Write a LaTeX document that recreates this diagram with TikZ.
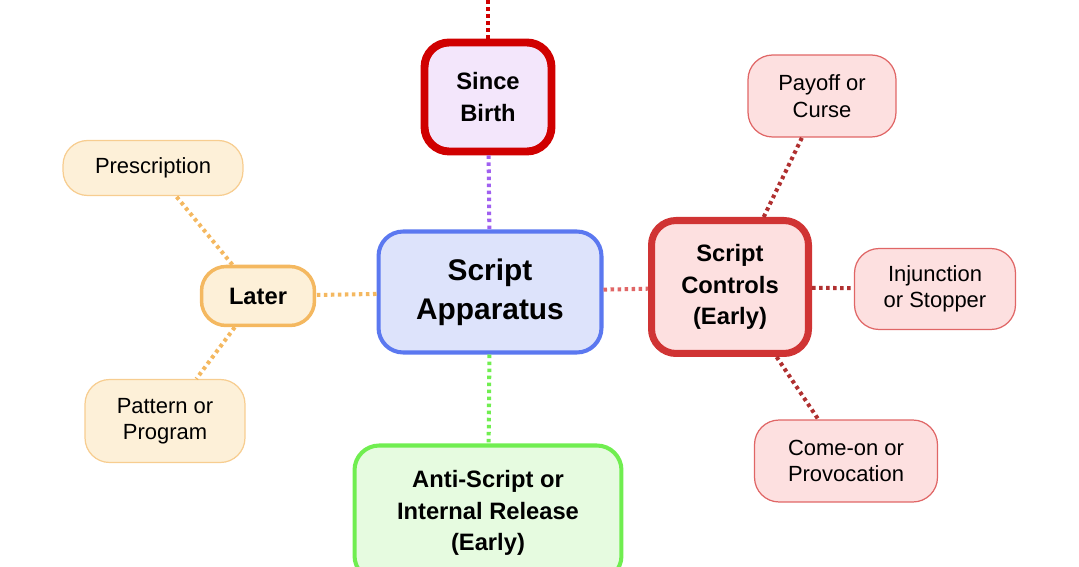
\documentclass[tikz,border=0pt]{standalone}
\usepackage{fontspec}
\setmainfont{Liberation Sans}
\usetikzlibrary{positioning}

\definecolor{bluefill}{HTML}{DDE3FB}
\definecolor{blueline}{HTML}{5B78F0}
\definecolor{redfill}{HTML}{FDE0E0}
\definecolor{redline}{HTML}{D03434}
\definecolor{leafline}{HTML}{E06666}
\definecolor{birthfill}{HTML}{F3E6FB}
\definecolor{birthline}{HTML}{D00000}
\definecolor{orangefill}{HTML}{FDF0D8}
\definecolor{orangeline}{HTML}{F4B860}
\definecolor{greenfill}{HTML}{E6FBE0}
\definecolor{greenline}{HTML}{70EE50}
\definecolor{purpleline}{HTML}{A060F0}
\definecolor{linkred}{HTML}{B03030}

\tikzset{
  box/.style={rounded corners=14pt, align=center, inner sep=2pt},
  leaf/.style={box, line width=0.7pt, font=\fontsize{12.5}{15}\selectfont},
  hub/.style={box, font=\bfseries\fontsize{13.5}{18}\selectfont},
  link/.style={line width=2.3pt, dash pattern=on 2pt off 2pt}
}

\begin{document}
\begin{tikzpicture}[x=0.02cm,y=-0.02cm]
  \useasboundingbox (0,0) rectangle (1079,567);
  % centre
  \node [box, draw=blueline, fill=bluefill, line width=2.3pt,
    minimum width=4.46cm, minimum height=2.42cm,
    font=\bfseries\fontsize{17}{22}\selectfont] (app) at (490,292) {Script\\Apparatus};
  % top
  \node [hub, draw=birthline, fill=birthfill, line width=4.5pt,
    minimum width=2.54cm, minimum height=2.18cm] (birth) at (488,97) {Since\\Birth};
  \coordinate (top) at (488,0);
  % right
  \node [hub, draw=redline, fill=redfill, line width=4pt,
    minimum width=3.14cm, minimum height=2.66cm] (ctrl) at (730,287) {Script\\Controls\\(Early)};
  \node [leaf, draw=leafline, fill=redfill, minimum width=2.96cm, minimum height=1.64cm] (pay) at (822,96) {Payoff or\\Curse};
  \node [leaf, draw=leafline, fill=redfill, minimum width=3.22cm, minimum height=1.62cm] (inj) at (935,289) {Injunction\\or Stopper};
  \node [leaf, draw=leafline, fill=redfill, minimum width=3.66cm, minimum height=1.64cm] (come) at (846,461) {Come-on or\\Provocation};
  % left
  \node [hub, draw=orangeline, fill=orangefill, line width=2pt,
    minimum width=2.26cm, minimum height=1.18cm] (later) at (258,296) {Later};
  \node [leaf, draw=orangeline!70, fill=orangefill, minimum width=3.6cm, minimum height=1.1cm] (pres) at (153,168) {Prescription};
  \node [leaf, draw=orangeline!70, fill=orangefill, minimum width=3.2cm, minimum height=1.66cm] (patt) at (165,421) {Pattern or\\Program};
  % bottom
  \node [hub, draw=greenline, fill=greenfill, line width=2.3pt,
    minimum width=5.34cm, minimum height=2.7cm] (anti) at (488,513) {Anti-Script or\\Internal Release\\(Early)};

  \draw [link, birthline] (top) -- (birth);
  \draw [link, purpleline] (birth) -- (app);
  \draw [link, greenline] (app) -- (anti);
  \draw [link, orangeline] (app) -- (later);
  \draw [link, orangeline] (later) -- (pres);
  \draw [link, orangeline] (later) -- (patt);
  \draw [link, leafline] (app) -- (ctrl);
  \draw [link, linkred] (ctrl) -- (pay);
  \draw [link, linkred] (ctrl) -- (inj);
  \draw [link, linkred] (ctrl) -- (come);
\end{tikzpicture}
\end{document}
